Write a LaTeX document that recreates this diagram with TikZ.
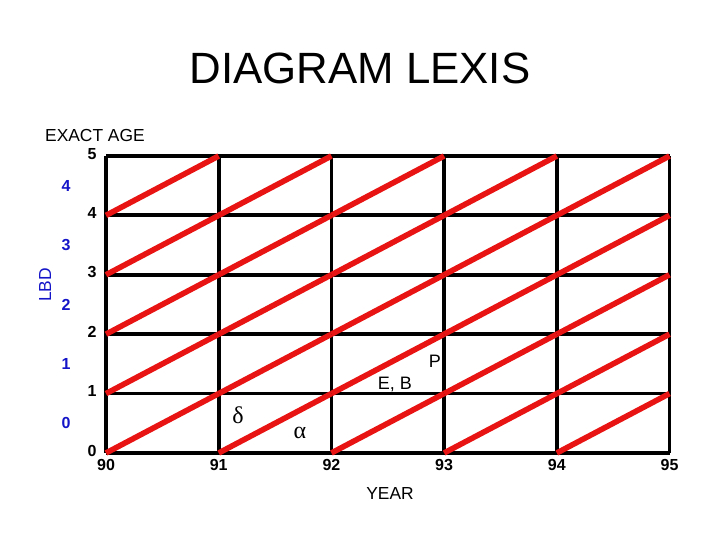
\documentclass[tikz,border=0pt]{standalone}
\usepackage{fontspec}
\setmainfont{Liberation Sans}
\newfontfamily\greekfont{Liberation Serif}
\usetikzlibrary{positioning}
\definecolor{lbdblue}{RGB}{20,20,200}
\definecolor{lexisred}{RGB}{232,20,20}

\begin{document}
\begin{tikzpicture}[
    x=56.35pt, y=29.7pt,
    gridline/.style={line width=1.9pt, black},
    lifeline/.style={line width=2.8pt, lexisred},
    numlabel/.style={font=\bfseries\fontsize{8}{9}\selectfont},
    lbdlabel/.style={font=\bfseries\fontsize{8}{9}\selectfont, text=lbdblue},
    axislabel/.style={font=\fontsize{8.7}{10}\selectfont}
]
\useasboundingbox (-0.9406,-1.4646) rectangle (5.448,7.626);

\node[font=\fontsize{21.9}{26}\selectfont] (title) at (2.254,6.48) {DIAGRAM LEXIS};
\node[axislabel] (exactage) at (-0.098,5.337) {EXACT AGE};
\node[axislabel] (year) at (2.52,-0.69) {YEAR};
\node[axislabel, text=lbdblue, rotate=90] (lbd) at (-0.541,2.83) {LBD};

% grid
\foreach \k in {0,...,5} {
  \draw[gridline] (\k,0) -- (\k,5);
  \draw[gridline] (0,\k) -- (5,\k);
}

% lines of life
\foreach \i in {0,...,4}
  \foreach \j in {0,...,4}
    \draw[lifeline] (\i,\j) -- (\i+1,\j+1);

% ages, years, completed years
\foreach \a in {0,...,5}
  \node[numlabel] (age\a) at (-0.124,\a+0.04) {\a};
\foreach \y [count=\k from 0] in {90,...,95}
  \node[numlabel] (yr\y) at (\k,-0.202) {\y};
\foreach \b in {0,...,4}
  \node[lbdlabel] (lbd\b) at (-0.355,\b+0.5) {\b};

\node[font=\fontsize{9}{10}\selectfont] (pnode) at (2.919,1.549) {P};
\node[font=\fontsize{9}{10}\selectfont] (eb) at (2.564,1.162) {E, B};
\node[font=\greekfont\fontsize{12}{14}\selectfont] (delta) at (1.171,0.64) {δ};
\node[font=\greekfont\fontsize{12}{14}\selectfont] (alpha) at (1.721,0.337) {α};

\end{tikzpicture}
\end{document}
